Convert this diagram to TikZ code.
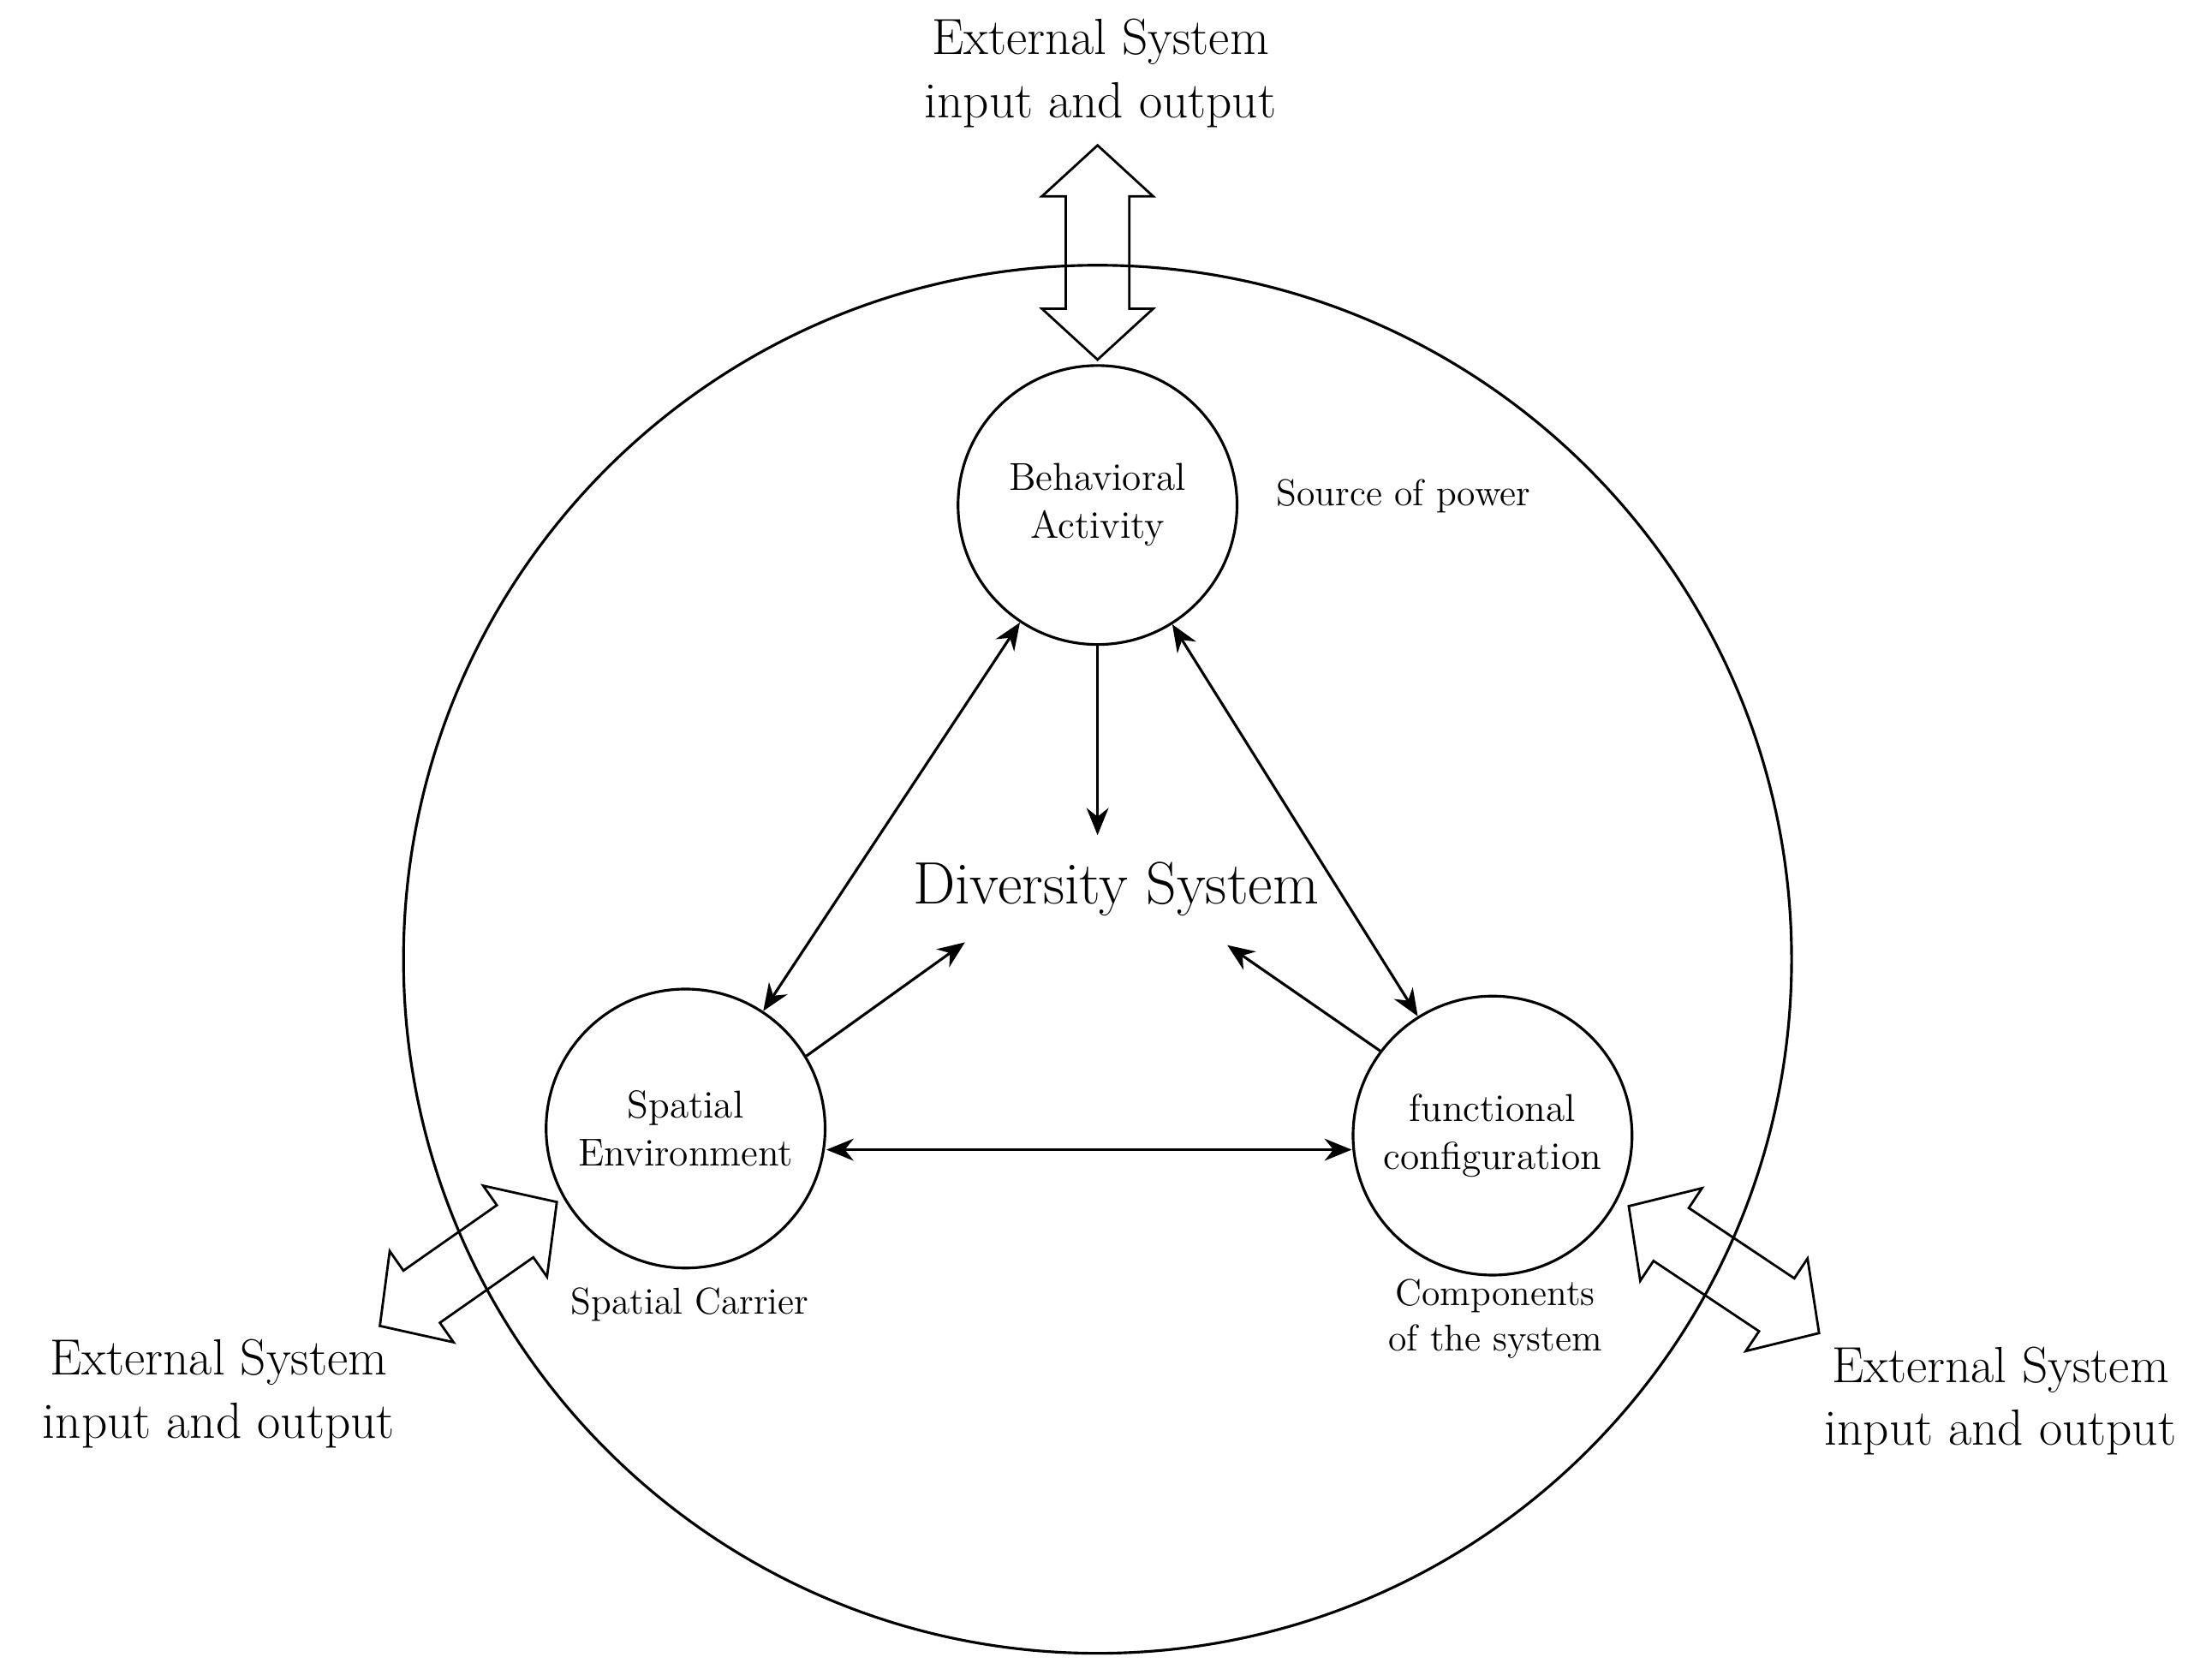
\documentclass[tikz,border=0pt]{standalone}
\usetikzlibrary{shapes.geometric, shapes.arrows, arrows.meta}

\begin{document}
\begin{tikzpicture}[
    x=0.01658cm, y=-0.01658cm,
    part_node/.style={circle, draw, line width=0.9pt, minimum size=3.28cm, inner sep=0pt, align=center, font=\fontsize{13}{16}\selectfont},
    note_text/.style={align=center, font=\fontsize{12.5}{15}\selectfont},
    ext_text/.style={align=center, font=\fontsize{17}{21}\selectfont},
    io_arrow/.style={double arrow, draw, line width=0.8pt, inner xsep=0pt, inner ysep=0.36cm, double arrow head extend=0.28cm, double arrow tip angle=95},
    link/.style={line width=0.9pt, -{Stealth[length=3.2mm, width=2.6mm]}},
    bilink/.style={line width=0.9pt, {Stealth[length=3.2mm, width=2.6mm]}-{Stealth[length=3.2mm, width=2.6mm]}}
]
    \useasboundingbox (0,0) rectangle (1568,1187);

    % outer system
    \node[circle, draw, line width=0.9pt, minimum size=16.32cm] (outer) at (778,680) {};

    % parts
    \node[part_node] (beh) at (778,358) {Behavioral\\Activity};
    \node[part_node] (spa) at (486,800) {Spatial\\Environment};
    \node[part_node] (fun) at (1058,805) {functional\\configuration};
    \node[font=\fontsize{20}{24}\selectfont] (div) at (791,630) {Diversity System};

    \node[note_text] (power) at (995,352) {Source of power};
    \node[note_text] (carrier) at (489,925) {Spatial Carrier};
    \node[note_text] (comp) at (1060,935) {Components\\of the system};

    % links
    \coordinate (divtop) at (778,592);
    \coordinate (divleft) at (684,668);
    \coordinate (divright) at (870,670);
    \draw[link] (beh) -- (divtop);
    \draw[link] (spa.31) -- (divleft);
    \draw[link] (fun.143) -- (divright);
    \draw[bilink] (beh) -- (spa);
    \draw[bilink] (beh) -- (fun);
    \draw[bilink] (spa.east |- 0,815) -- (fun.west |- 0,815);

    % external input and output
    \node[io_arrow, minimum height=2.52cm, rotate=90] (iotop) at (778,179) {};
    \node[io_arrow, minimum height=2.54cm, rotate=35] (ioleft) at (332,896) {};
    \node[io_arrow, minimum height=2.69cm, rotate=-33.7] (ioright) at (1222,900) {};
    \node[ext_text] (exttop) at (780,52) {External System\\input and output};
    \node[ext_text] (extleft) at (155,988) {External System\\input and output};
    \node[ext_text] (extright) at (1418,993) {External System\\input and output};
\end{tikzpicture}
\end{document}
